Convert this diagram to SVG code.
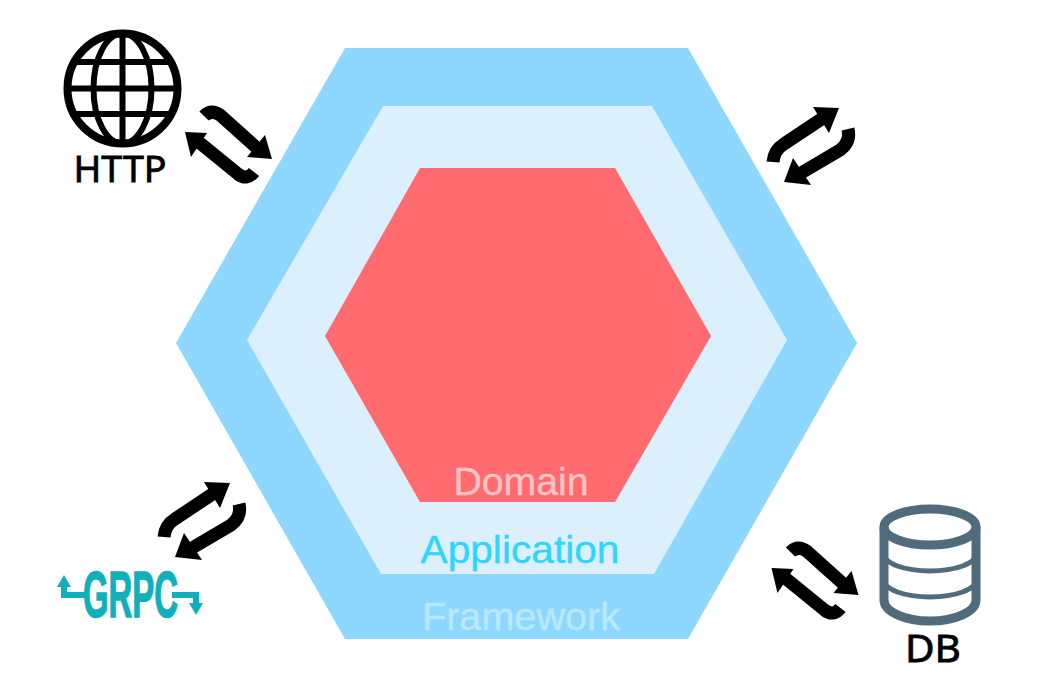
<svg xmlns="http://www.w3.org/2000/svg" width="1038" height="689" viewBox="0 0 1038 689">
<style>
.lbl{font-family:"Liberation Sans",Arial,sans-serif;font-size:39.5px;text-anchor:middle;stroke-width:.4}
.cap{font-family:"Noto Sans","Open Sans",sans-serif;fill:#000;stroke:#000;stroke-width:.8;text-anchor:middle}
.body{fill:none;stroke:#000;stroke-width:13}
.g{fill:none;stroke:#000;stroke-width:6}
.d{fill:none;stroke:#4f6b7c}
.t{fill:none;stroke:#0fb0bb;stroke-width:6}
</style>
<defs>
<g id="swap-down">
<path class="body" d="M204 116Q211 109 220 115L258 149"/>
<polygon points="272,159 265,135 247,157"/>
<path class="body" d="M254 172Q247 181 238 174L195 139"/>
<polygon points="185,132 207,133 191,157"/>
</g>
<g id="swap-up">
<path class="body" d="M773 162Q774 150 784 144L826 116"/>
<polygon points="839,108 813,107 829,133"/>
<path class="body" d="M848 129Q851 142 840 150L796 176"/>
<polygon points="784,182 793,158 811,185"/>
</g>
</defs>
<rect width="1038" height="689" fill="#fff"/>
<g id="framework">
<polygon fill="#8ed8ff" points="345,48 688,48 857,343 688,639 345,639 176,343"/>
<text class="lbl" x="521" y="630" fill="#b9e9ff" stroke="#b9e9ff" textLength="198" lengthAdjust="spacingAndGlyphs">Framework</text>
</g>
<g id="application">
<polygon fill="#dceffc" points="383,106 652,106 787,340 654,574 381,574 247,340"/>
<text class="lbl" x="520" y="563" fill="#2fd5ff" stroke="#2fd5ff" textLength="199" lengthAdjust="spacingAndGlyphs">Application</text>
</g>
<g id="domain">
<polygon fill="#ff6b6f" points="420,168 615,168 711,336 615,502 420,502 325,336"/>
<text class="lbl" x="521" y="495" fill="#ffc4c8" stroke="#ffc4c8" textLength="135" lengthAdjust="spacingAndGlyphs">Domain</text>
</g>
<g id="http">
<circle cx="122.5" cy="88.5" r="55" fill="none" stroke="#000" stroke-width="8"/>
<ellipse class="g" cx="122.5" cy="88.5" rx="29" ry="55"/>
<path class="g" d="M122.5 33V144M67 88.5H178M76 62H169M76 114H169"/>
<text class="cap" x="120" y="182" font-size="37" textLength="93" lengthAdjust="spacingAndGlyphs">HTTP</text>
</g>
<g id="grpc">
<text x="130.500" y="617" font-family="'Liberation Sans Narrow','Liberation Sans',sans-serif" font-weight="700" font-size="65" fill="#0fb0bb" stroke="#0fb0bb" stroke-width="1.500" text-anchor="middle" textLength="95" lengthAdjust="spacingAndGlyphs">GRPC</text>
<path class="t" d="M88 595H64V586"/>
<polygon fill="#0fb0bb" points="64,575 57,587 71,587"/>
<path class="t" d="M172 595H196V604"/>
<polygon fill="#0fb0bb" points="196,615 189,603 203,603"/>
</g>
<g id="db">
<ellipse class="d" cx="930" cy="527" rx="46" ry="18" stroke-width="9"/>
<path class="d" stroke-width="9" d="M884 527V600A46 21 0 0 0 976 600V527"/>
<path class="d" stroke-width="5" d="M884 554A46 17 0 0 0 976 554M884 580A46 17 0 0 0 976 580"/>
<text class="cap" x="933" y="662" font-size="39" textLength="56" lengthAdjust="spacingAndGlyphs">DB</text>
</g>
<g id="connectors">
<use href="#swap-down"/>
<use href="#swap-down" transform="translate(586.500 436)"/>
<use href="#swap-up"/>
<use href="#swap-up" transform="translate(-609 375)"/>
</g>
</svg>
